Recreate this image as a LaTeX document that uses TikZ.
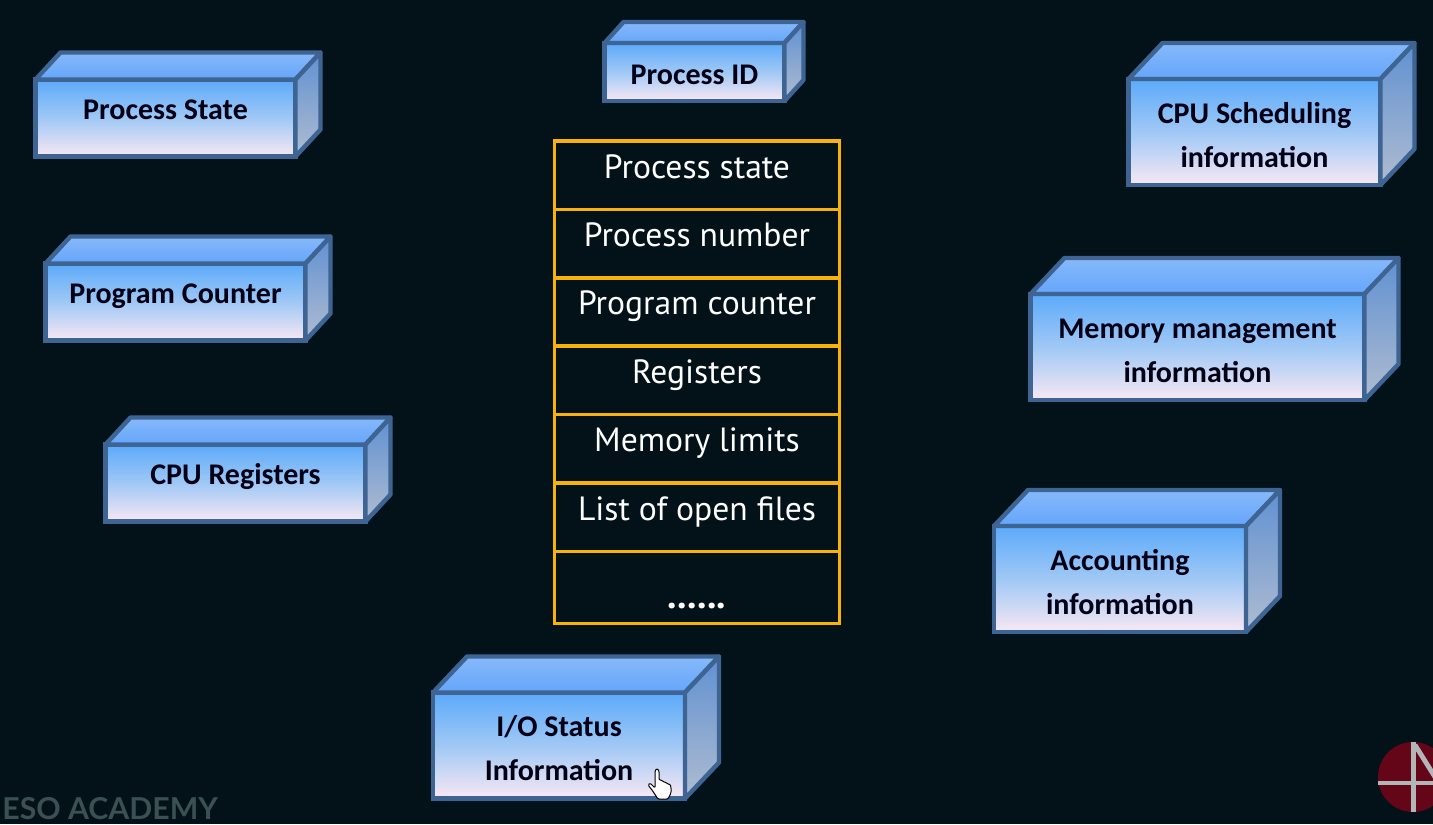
\documentclass[tikz,border=0pt]{standalone}
\usepackage{fontspec}
\setmainfont{Carlito}
\newfontfamily\rowfont{PT Sans}
\newfontfamily\markfont{Lato}
\usepackage{xcolor}
\usetikzlibrary{positioning, calc}

\definecolor{bgdark}{RGB}{2,18,24}
\definecolor{edgeblue}{RGB}{62,100,148}
\definecolor{frontblue}{RGB}{92,170,250}
\definecolor{frontmid}{RGB}{160,200,245}
\definecolor{frontpink}{RGB}{248,232,244}
\definecolor{topdark}{RGB}{100,165,250}
\definecolor{toplight}{RGB}{135,185,250}
\definecolor{sidedark}{RGB}{96,145,210}
\definecolor{sidelight}{RGB}{175,188,208}
\definecolor{rowyellow}{RGB}{248,178,10}
\definecolor{logored}{RGB}{100,6,24}
\definecolor{logoline}{RGB}{178,182,184}
\definecolor{markgray}{RGB}{58,80,82}

\tikzset{
  frontbox/.style={draw=edgeblue, line width=2.2pt, outer sep=0pt, inner sep=0pt, align=center,
    top color=frontblue, bottom color=frontpink, middle color=frontmid, text=black!92!blue,
    font=\fontsize{15}{22}\selectfont\bfseries},
  oneline/.style={minimum width=130pt, minimum height=38.5pt, text height=20pt, text depth=18.5pt},
  twoline/.style={minimum width=126pt, minimum height=53pt, text height=44pt, text depth=9pt},
  topface/.style={draw=edgeblue, line width=2.2pt, line join=round, bottom color=topdark, top color=toplight},
  sideface/.style={draw=edgeblue, line width=2.2pt, line join=round, top color=sidedark, bottom color=sidelight},
  rowbox/.style={draw=rowyellow, line width=1.8pt, minimum width=142.5pt, outer sep=0pt, inner sep=0pt,
    text height=18.5pt, text depth=15.7pt, text=white, font=\fontsize{16.8}{20}\rowfont}
}

% top and right faces behind a front node
\newcommand{\prismfaces}[3]{
  \draw[topface] (#1.north west) -- ++(#2,-#3) -| ($(#1.north east)+(#2,-#3)$) -- (#1.north east) -- cycle;
  \draw[sideface] (#1.north east) -- ++(#2,-#3) -- ($(#1.south east)+(#2,-#3)$) -- (#1.south east) -- cycle;
}

\begin{document}
\begin{tikzpicture}[x=0.5pt, y=-0.5pt]
    \useasboundingbox (0,0) rectangle (1433,824);
    \fill[bgdark] (0,0) rectangle (1433,824);

    % Left column
    \node[frontbox, oneline] (state) at (165.5,118) {Process State};
    \node[frontbox, oneline] (counter) at (175.5,302) {Program Counter};
    \node[frontbox, oneline] (registers) at (235.5,483) {CPU Registers};
    \prismfaces{state}{25}{27}
    \prismfaces{counter}{25}{27}
    \prismfaces{registers}{25}{27}

    % Top and bottom
    \node[frontbox, minimum width=90pt, minimum height=29pt, text height=20.5pt, text depth=8.5pt] (pid) at (694.5,72) {Process ID};
    \node[frontbox, twoline] (iostatus) at (559,745.5) {I/O Status\\Information};
    \prismfaces{pid}{19}{21}
    \prismfaces{iostatus}{34}{36}

    % Right column
    \node[frontbox, twoline] (sched) at (1254.5,132) {CPU Scheduling\\information};
    \node[frontbox, twoline, minimum width=167pt] (memory) at (1197.5,347) {Memory management\\information};
    \node[frontbox, twoline] (account) at (1120,579) {Accounting\\information};
    \prismfaces{sched}{34}{36}
    \prismfaces{memory}{34}{36}
    \prismfaces{account}{34}{36}

    % Centre table
    \node[rowbox, anchor=north] (r1) at (697,141) {Process state};
    \node[rowbox, below=0pt of r1] (r2) {Process number};
    \node[rowbox, below=0pt of r2] (r3) {Program counter};
    \node[rowbox, below=0pt of r3] (r4) {Registers};
    \node[rowbox, below=0pt of r4] (r5) {Memory limits};
    \node[rowbox, below=0pt of r5] (r6) {List of open files};
    \node[rowbox, below=0pt of r6, text height=28.5pt, text depth=7.5pt, font=\fontsize{19}{20}\rowfont\bfseries] (r7) {......};

    % Hand pointer
    \draw[black, line width=0.5pt, fill=white, line join=round, rounded corners=0.6pt]
        (655,771) -- (656,769) -- (658,769) -- (659,771) -- (659,780) -- (662,780) -- (663,782)
        -- (666,782) -- (667,784) -- (670,784) -- (671,787) -- (671,793) -- (668,799) -- (658,799)
        -- (652,790) -- (648,785) -- (650,783) -- (655,788) -- cycle;

    % Watermark and logo
    \node[anchor=base west, inner sep=0pt, text=markgray, font=\fontsize{15.1}{16}\markfont\bfseries] (mark) at (2,819) {ESO ACADEMY};
    \begin{scope}
        \clip (0,0) rectangle (1433,824);
        \fill[logored] (1413,777) circle (35);
        \draw[logoline, line width=2.4pt] (1413.5,742) -- (1413.5,812);
        \draw[logoline, line width=2.4pt] (1378,783) -- (1433,783);
        \draw[logoline, line width=2.4pt] (1415,745) -- (1440,785);
    \end{scope}
\end{tikzpicture}
\end{document}
